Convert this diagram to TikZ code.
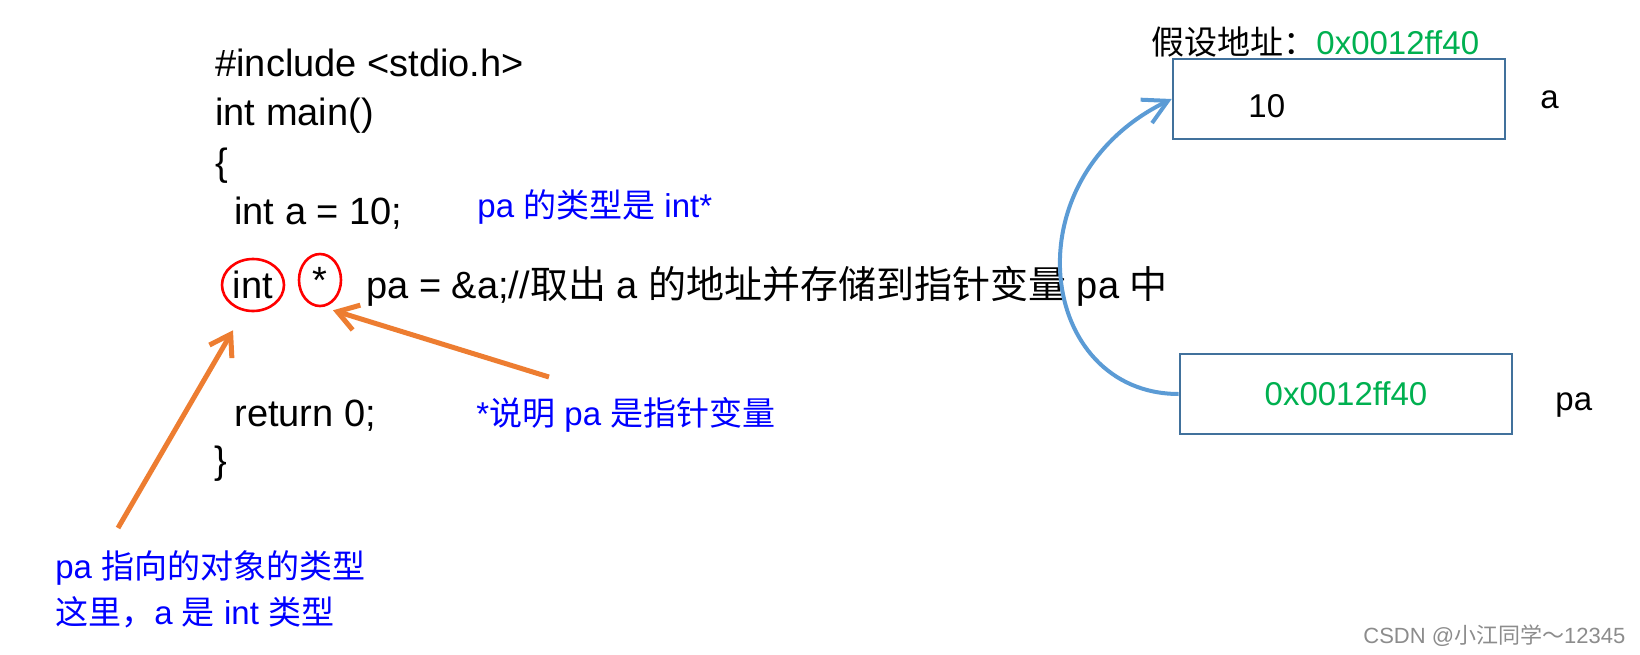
\documentclass[tikz,border=0pt]{standalone}
\usepackage{fontspec}
\setmainfont{Liberation Sans}
\newfontfamily\cjk{Noto Sans CJK SC}
\usetikzlibrary{arrows.meta,calc,shapes.geometric}
\definecolor{noteblue}{RGB}{0,0,255}
\definecolor{addrgreen}{RGB}{0,176,80}
\definecolor{ptrorange}{RGB}{237,125,49}
\definecolor{arcblue}{RGB}{91,155,213}
\definecolor{boxframe}{RGB}{65,113,156}
\tikzset{
  code/.style={anchor=base west,inner sep=0pt,font=\fontsize{19}{23}\selectfont},
  txt/.style={anchor=base west,inner sep=0pt,font=\fontsize{16.5}{20}\selectfont},
  note/.style={txt,text=noteblue},
  ring/.style={draw=red,ellipse,line width=1.3pt,inner sep=0pt,font=\fontsize{19}{23}\selectfont},
  membox/.style={draw=boxframe,line width=1.3pt,minimum width=166pt,minimum height=40pt,inner sep=0pt},
  pointsto/.style={ptrorange,line width=2.5pt,-{Straight Barb[length=10pt,width=13pt]}},
}
\begin{document}
\begin{tikzpicture}[x=0.5pt,y=-0.5pt]
\useasboundingbox (0,0) rectangle (1640,654);
\node[code] (inc) at (215,76) {\#include <stdio.h>};
\node[code] (mainfn) at (215,125) {int main()};
\node[code] (lbrace) at (215,175) {\{};
\node[code] (decla) at (234,224) {int a = 10;};
\node[note] (typenote) at (477,217) {pa {\cjk 的类型是} int*};
\node[ring,minimum width=31pt,minimum height=26pt] (intc) at (253,285) {int};
\node[ring,minimum width=21pt,minimum height=26pt] (starc) at (320,280) {*};
\node[code] (assign) at (366,298) {pa = \&a;//{\cjk 取出} a {\cjk 的地址并存储到指针变量} pa {\cjk 中}};
\node[code] (ret) at (234,426) {return 0;};
\node[note] (starnote) at (476,425) {*{\cjk 说明} pa {\cjk 是指针变量}};
\node[code] (rbrace) at (214,473) {\}};
\node[note] (objnote) at (55,578) {pa {\cjk 指向的对象的类型}};
\node[note] (heretype) at (55,624) {{\cjk 这里，}a {\cjk 是} int {\cjk 类型}};

\node[txt] (addrtag) at (1151,54) {{\cjk 假设地址：}\textcolor{addrgreen}{0x0012ff40}};
\node[membox] (boxa) at (1339,99) {};
\node[txt] (vala) at (1248,117) {10};
\node[txt] (namea) at (1540,108) {a};
\node[membox,text=addrgreen,font=\fontsize{16.5}{20}\selectfont] (boxpa) at (1346,394) {0x0012ff40};
\node[txt] (namepa) at (1555,410) {pa};

\coordinate (objtail) at (118,528);
\coordinate (startail) at (549,377);
\draw[pointsto] (objtail) -- ($(intc.south)+(-20,18)$);
\draw[pointsto] (startail) -- ($(starc.south)+(13,3)$);
\draw[arcblue,line width=2pt,-{Straight Barb[length=12pt,width=13pt]}] (boxpa.west) .. controls +(-140,0) and +(-164,80) .. (boxa.west);

\node[anchor=base west,inner sep=0pt,text=black!45,font=\fontsize{11}{13}\selectfont] (wm) at (1363,643) {CSDN @{\cjk 小江同学～}12345};
\end{tikzpicture}
\end{document}
